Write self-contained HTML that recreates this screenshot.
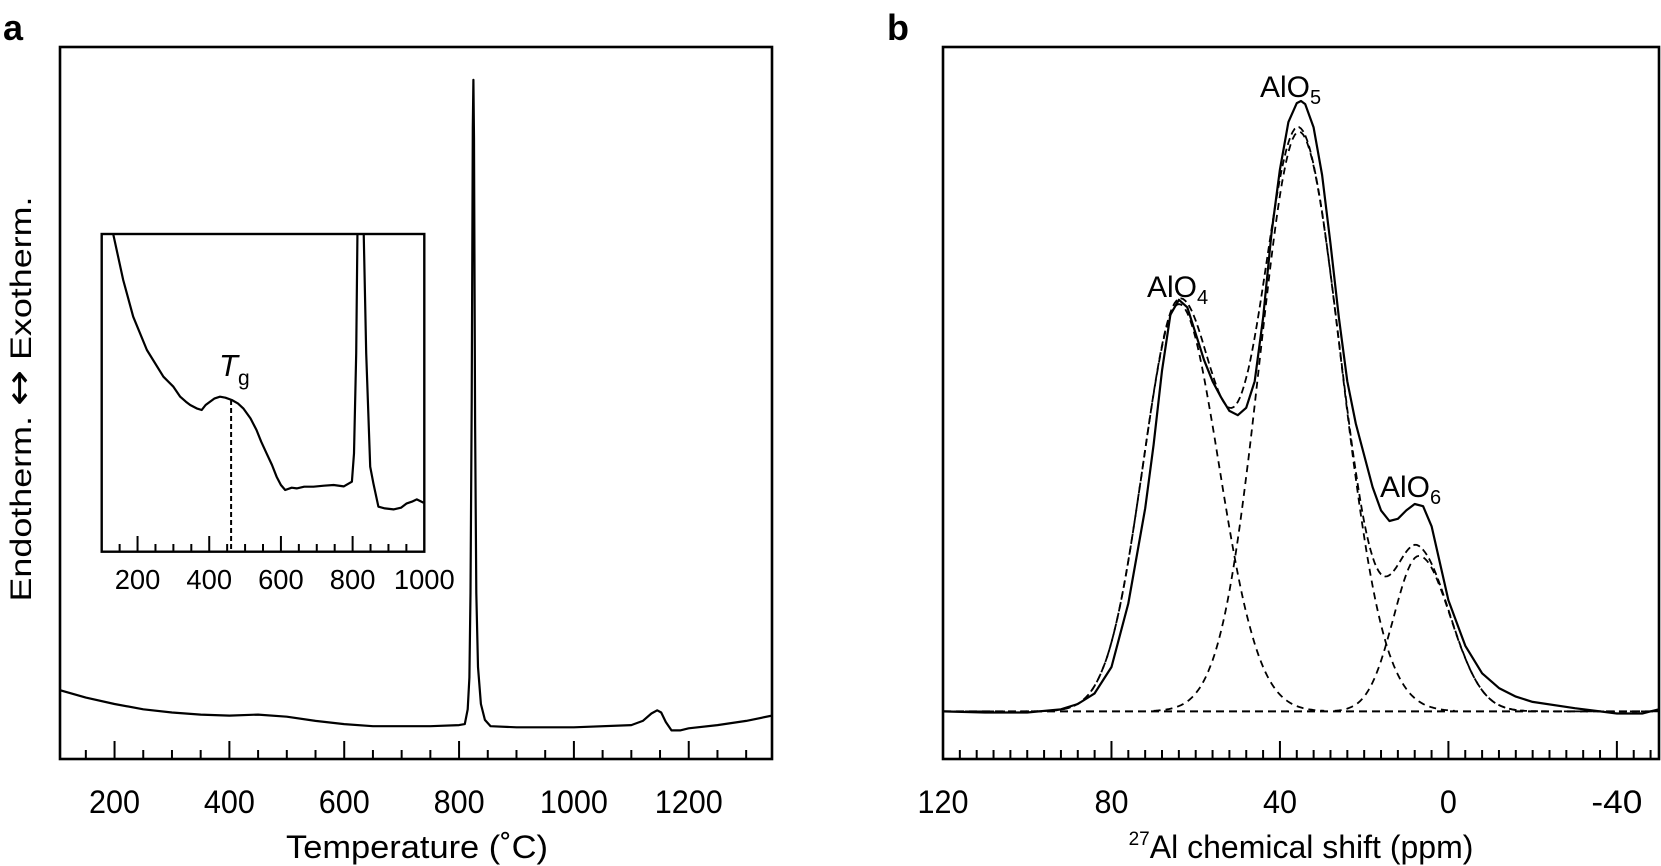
<!DOCTYPE html>
<html><head><meta charset="utf-8"><style>
html,body{margin:0;padding:0;background:#fff}
svg{display:block}
text{font-family:"Liberation Sans",Arial,sans-serif;fill:#000}
</style></head><body>
<svg id="fig" width="1661" height="866" viewBox="0 0 1661 866">
<defs>
<clipPath id="clipA"><rect x="60" y="47" width="712" height="712"/></clipPath>
<clipPath id="clipIn"><rect x="101.7" y="234" width="322.6" height="317.7"/></clipPath>
<clipPath id="clipB"><rect x="943" y="47" width="716" height="712"/></clipPath>
</defs>
<text x="3" y="40" font-size="36" font-weight="bold">a</text>
<text x="887" y="40" font-size="36" font-weight="bold">b</text>
<text transform="translate(31,399) rotate(-90)" text-anchor="middle" font-size="30" textLength="405" lengthAdjust="spacingAndGlyphs">Endotherm. <tspan font-family="DejaVu Sans" font-size="36">↔</tspan> Exotherm.</text>
<text x="417" y="858" text-anchor="middle" font-size="32" textLength="262" lengthAdjust="spacingAndGlyphs">Temperature (˚C)</text>
<text x="1301" y="858" text-anchor="middle" font-size="32"><tspan font-size="19" dy="-13">27</tspan><tspan dy="13">Al chemical shift (ppm)</tspan></text>
<g id="gA"></g>
<g id="gIn"></g>
<g id="gB"></g>
</svg>
<script>
// ---- DSC main data (temperature °C, heat flow a.u.) ----
const dscT = [105,150,200,250,300,350,400,450,500,550,600,650,700,750,800,810,815,818,820,822,824,825,826,828,830,833,838,845,855,900,1000,1100,1120,1135,1145,1152,1160,1170,1185,1200,1250,1300,1345];
const dscV = [65,58,52,47,44,42,41,42,40,36,33,31,31,31,32,33,47,77,157,337,597,642,587,317,157,87,52,37,31,30,30,32,36,43,46,44,35,27,27,29,32,36,41];
const dscTicks = [200,400,600,800,1000,1200];
// ---- Inset data ----
const insT = [132,160,188,226,272,300,319,335,347,365,379,390,402,415,430,445,463,480,495,515,532,545,560,575,588,600,612,630,644,665,691,720,747,775,798,804,810,814,830,838,849,858,872,890,914,935,951,965,979,998];
const insV = [953,815,705,605,525,495,465,450,440,430,425,440,450,460,465,462,455,445,430,400,365,330,295,260,225,200,185,192,190,195,195,198,200,196,210,295,595,1000,1000,595,255,205,135,130,127,132,145,150,157,147];
const insTicks = [200,400,600,800,1000];
const tgValue = 461;
// ---- NMR data ----
const nmrPpm = [120,110,100,92,88,84,80,76,72,70,68,66,64,62,60,58,56,54,52,50,48,46,44,42,40,38,36,35,34,32,30,28,26,24,22,20,18,16,14,12,10,8,6,4,2,0,-4,-8,-12,-16,-20,-30,-40,-46,-50];
const nmrExp = [0,-1,-1,2,7,17,42,102,192,252,322,375,389,382,357,332,312,297,284,280,287,312,372,452,512,557,575,577,574,552,507,442,372,312,272,242,212,190,180,182,190,196,194,175,140,105,62,36,22,14,9,3,-2,-2,2];
const compName = ["AlO4","AlO5","AlO6"];
const compCenter = [64,35.5,7];
const compAmp = [385,548,147];
const compSigL = [8.5,9.3,6];
const compSigR = [9.5,10,7.5];
const nmrTicks = [120,80,40,0,-40];

const NS="http://www.w3.org/2000/svg";
function mk(tag,attrs,parent){const e=document.createElementNS(NS,tag);for(const k in attrs)e.setAttribute(k,attrs[k]);parent.appendChild(e);return e;}
function lin(d0,d1,r0,r1){return v=>r0+(v-d0)*(r1-r0)/(d1-d0);}

// ===== Panel a =====
const gA=document.getElementById('gA');
const xA=lin(105,1345,60,772), yA=lin(0,673,759,47);
let r=mk('rect',{x:60,y:47,width:712,height:712,fill:'none',stroke:'#000','stroke-width':2.6},gA);


for(let t=150;t<=1345;t+=50){
  const maj=t%200===0;const x=xA(t);
  const l=mk('line',{x1:x,x2:x,y1:759,y2:maj?741:750,stroke:'#000','stroke-width':2},gA);
  
  
}
dscTicks.forEach(t=>{
  const s=String(t);
  const tx=mk('text',{x:xA(t),y:813,'text-anchor':'middle','font-size':32,textLength:s.length*17,lengthAdjust:'spacingAndGlyphs'},gA);
  tx.textContent=s;
  
  
});
let p=mk('path',{d:dscT.map((t,i)=>(i?'L':'M')+xA(t).toFixed(1)+','+yA(dscV[i]).toFixed(1)).join(''),fill:'none',stroke:'#000','stroke-width':2.2,'stroke-linejoin':'round','clip-path':'url(#clipA)'},gA);



// ===== Inset =====
const gIn=document.getElementById('gIn');
const xI=lin(100,1000,101.7,424.3), yI=lin(0,953,551.7,234);
r=mk('rect',{x:101.7,y:234,width:322.6,height:317.7,fill:'#fff',stroke:'#000','stroke-width':2.4},gIn);


for(let t=150;t<1000;t+=50){
  const maj=t%200===0;const x=xI(t);
  const l=mk('line',{x1:x,x2:x,y1:551.7,y2:maj?536:544,stroke:'#000','stroke-width':2},gIn);
  
  
}
insTicks.forEach(t=>{
  const s=String(t);
  const tx=mk('text',{x:xI(t),y:589,'text-anchor':'middle','font-size':28,textLength:s.length*15.2,lengthAdjust:'spacingAndGlyphs'},gIn);
  tx.textContent=s;
  
  
});
p=mk('path',{d:insT.map((t,i)=>(i?'L':'M')+xI(t).toFixed(1)+','+yI(insV[i]).toFixed(1)).join(''),fill:'none',stroke:'#000','stroke-width':2.2,'stroke-linejoin':'round','clip-path':'url(#clipIn)'},gIn);


let l=mk('line',{x1:xI(tgValue),x2:xI(tgValue),y1:yI(455),y2:551.7,stroke:'#000','stroke-width':2,'stroke-dasharray':'5,3'},gIn);


let tg=mk('text',{x:219,y:376,'font-size':31},gIn);
tg.innerHTML='<tspan font-style="italic">T</tspan><tspan font-size="21" dy="9">g</tspan>';



// ===== Panel b =====
const gB=document.getElementById('gB');
const xB=lin(120,-50,943,1659), yB=lin(-45,628,759,47);
r=mk('rect',{x:943,y:47,width:716,height:712,fill:'none',stroke:'#000','stroke-width':2.6},gB);


for(let v=116;v>-50;v-=4){
  const maj=v%40===0;const x=xB(v);
  l=mk('line',{x1:x,x2:x,y1:759,y2:maj?741:750,stroke:'#000','stroke-width':2},gB);
  
  
}
nmrTicks.forEach(v=>{
  const s=String(v);
  const tx=mk('text',{x:xB(v),y:813,'text-anchor':'middle','font-size':32,textLength:s.length*17,lengthAdjust:'spacingAndGlyphs'},gB);
  tx.textContent=s;
  
  
});
function comp(i,ppm){const d=ppm-compCenter[i];const s=d>0?compSigL[i]:compSigR[i];return compAmp[i]*Math.exp(-d*d/(2*s*s));}
const grid=[];for(let v=120;v>=-50;v-=0.5)grid.push(v);
l=mk('line',{x1:943,x2:1659,y1:yB(0),y2:yB(0),stroke:'#000','stroke-width':2,'stroke-dasharray':'8,5'},gB);


compName.forEach((n,i)=>{
  const pts=grid.filter(v=>comp(i,v)>0.5);
  const c=mk('path',{d:pts.map((v,j)=>(j?'L':'M')+xB(v).toFixed(1)+','+yB(comp(i,v)).toFixed(1)).join(''),fill:'none',stroke:'#000','stroke-width':1.8,'stroke-dasharray':'7,5','clip-path':'url(#clipB)'},gB);
  
  
});
const sumPath=grid.map((v,j)=>(j?'L':'M')+xB(v).toFixed(1)+','+yB(comp(0,v)+comp(1,v)+comp(2,v)).toFixed(1)).join('');
p=mk('path',{d:sumPath,fill:'none',stroke:'#000','stroke-width':1.8,'stroke-dasharray':'7,4','clip-path':'url(#clipB)'},gB);


p=mk('path',{d:nmrPpm.map((v,i)=>(i?'L':'M')+xB(v).toFixed(1)+','+yB(nmrExp[i]).toFixed(1)).join(''),fill:'none',stroke:'#000','stroke-width':2.2,'stroke-linejoin':'round','clip-path':'url(#clipB)'},gB);


const labPos=[[1147,297,'4'],[1260,97,'5'],[1380,497,'6']];
labPos.forEach((q,i)=>{
  const t=mk('text',{x:q[0],y:q[1],'font-size':30},gB);
  t.innerHTML='AlO<tspan font-size="20" dy="7">'+q[2]+'</tspan>';
  
  
});
</script>
</body></html>
